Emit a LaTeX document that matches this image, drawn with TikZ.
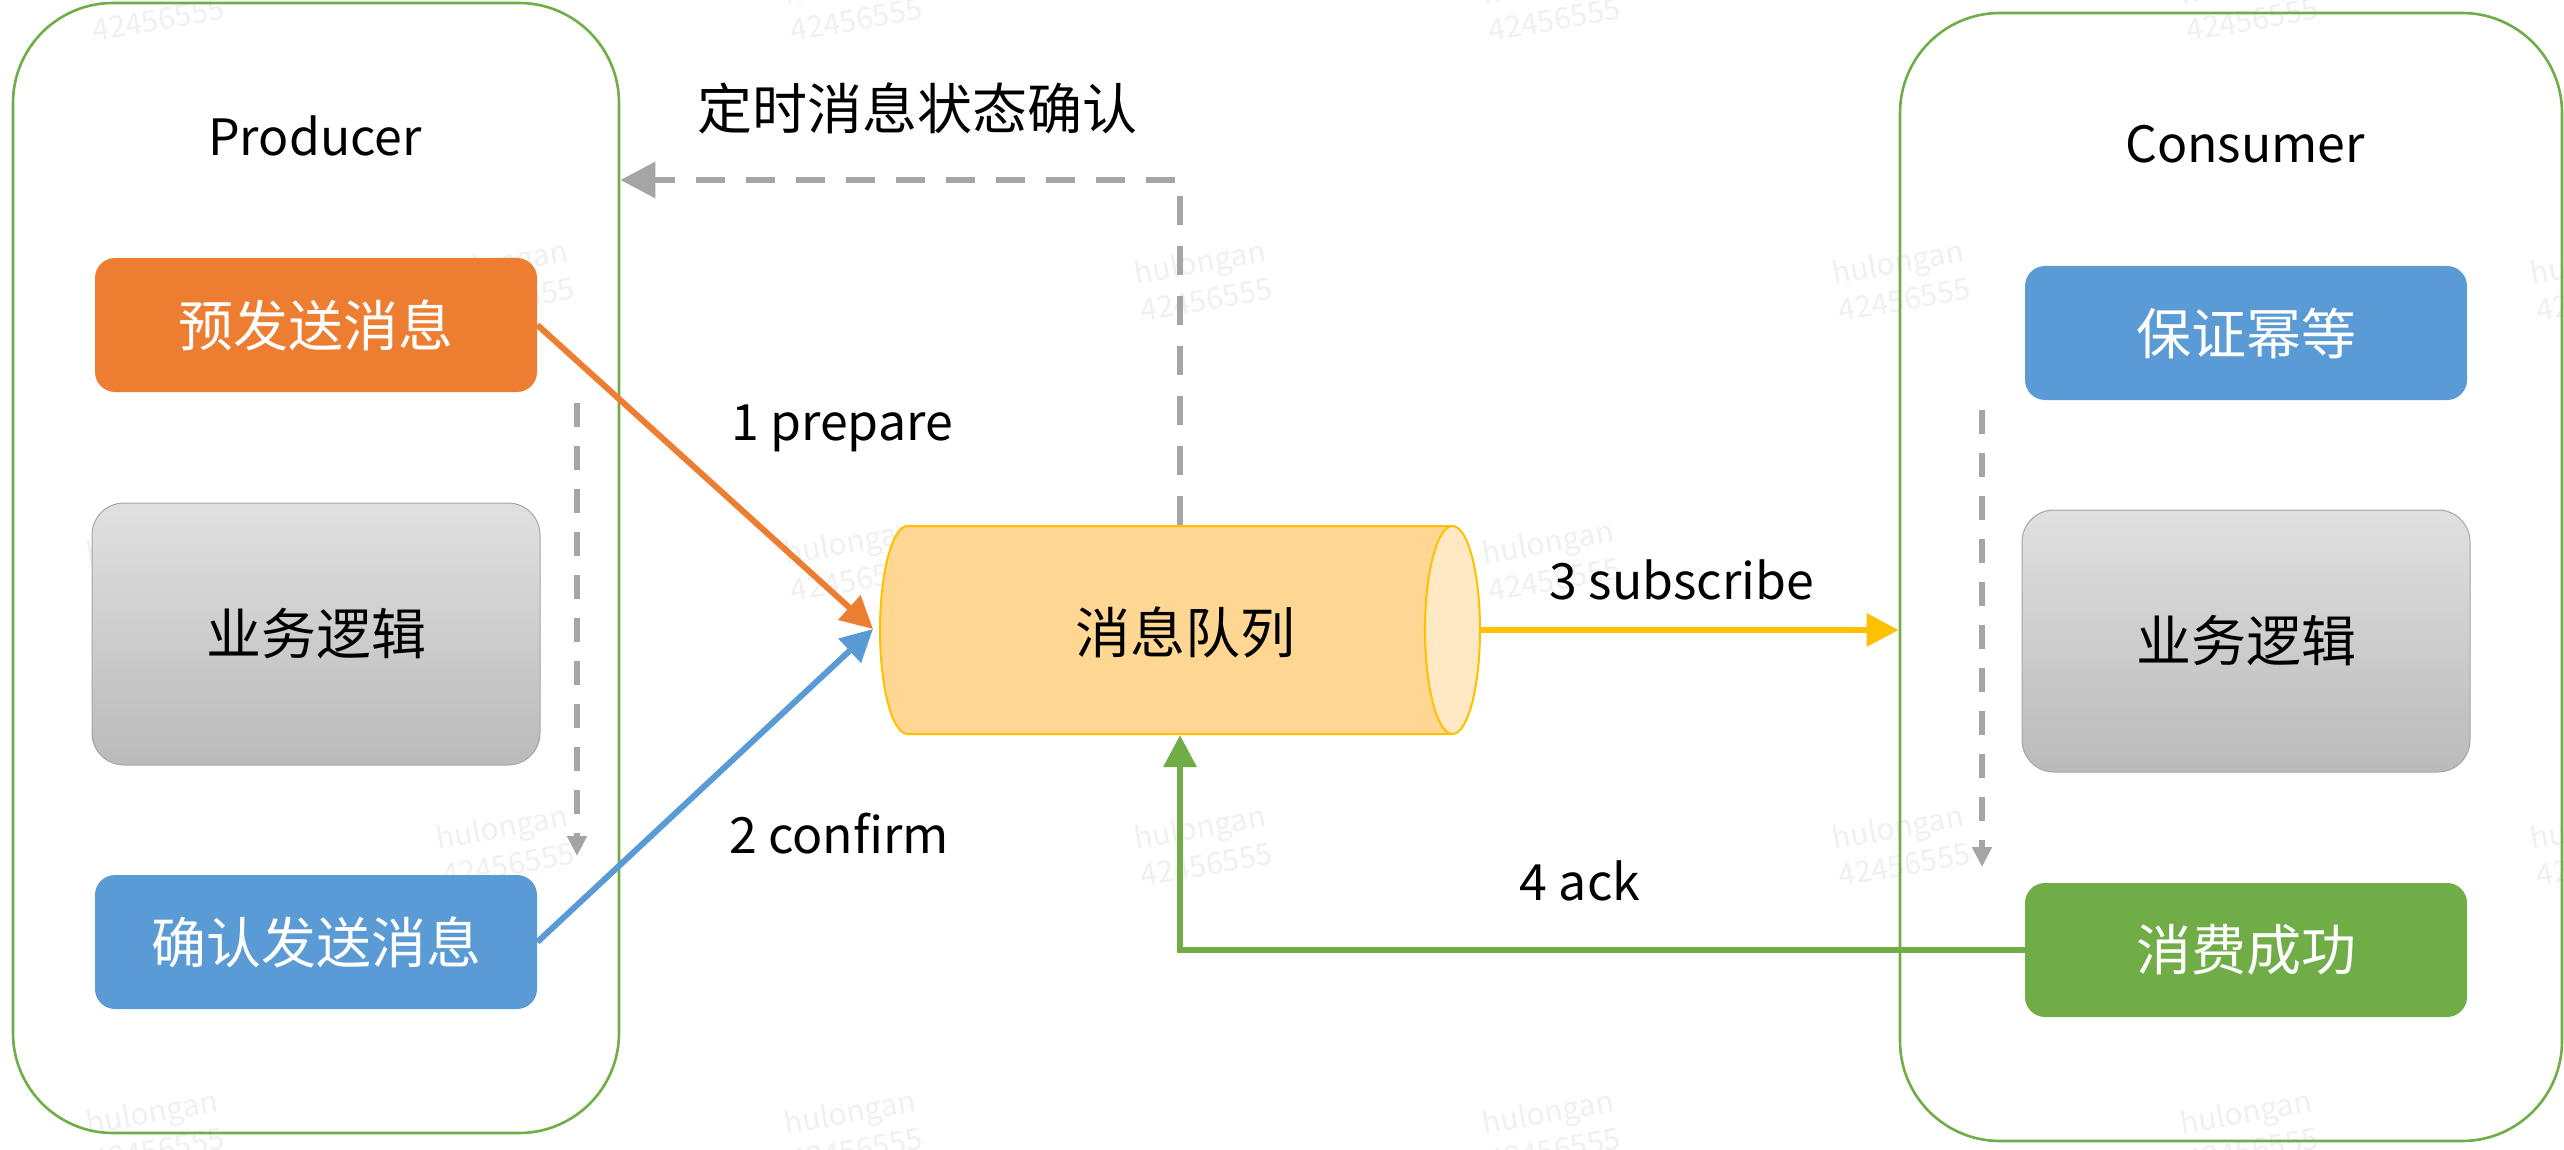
\documentclass[tikz,border=0pt]{standalone}
\usepackage{fontspec}
\setmainfont{Noto Sans CJK SC}
\usepackage{tikz}
\usetikzlibrary{%
  arrows.meta,%
  shapes.geometric,%
  positioning}
\definecolor{boxgreen}{HTML}{70AD47}
\definecolor{boxorange}{HTML}{ED7D31}
\definecolor{boxblue}{HTML}{5B9BD5}
\definecolor{boxyellow}{HTML}{FFC000}
\definecolor{boxgray}{HTML}{A5A5A5}
\definecolor{mqbody}{HTML}{FFD793}
\definecolor{mqend}{HTML}{FFE8C4}
\tikzset{
  side/.style={rectangle,draw=boxgreen,line width=1.3pt,rounded corners=50pt,minimum width=#1},
  side/.default=303pt,
  tag/.style={rectangle,fill=#1,text=white,rounded corners=10pt,minimum width=221pt,minimum height=67pt,font=\fontsize{27.5}{30}\selectfont},
  logic/.style={rectangle,draw=boxgray,line width=.5pt,top color=black!12,bottom color=black!27,rounded corners=16pt,minimum width=224pt,minimum height=131pt,font=\fontsize{27.5}{30}\selectfont},
  lbl/.style={font=\fontsize{25}{30}\selectfont,inner sep=0pt},
  flow/.style={draw=#1,line width=3pt,-{Triangle[length=16pt,width=16pt]}},
  wait/.style={draw=boxgray,line width=3.3pt,dash pattern=on 14.5pt off 10.5pt,-{Triangle[length=17.5pt,width=17.5pt]}},
  waitsmall/.style={draw=boxgray,line width=3.2pt,dash pattern=on 12pt off 9.5pt,-{Triangle[length=10pt,width=9.5pt]}},
  mark text/.style={text=black!6,font=\fontsize{15}{19}\selectfont,rotate=10,align=left}
}
\begin{document}
\begin{tikzpicture}[x=.5pt,y=-.5pt]
\useasboundingbox (0,0) rectangle (2564,1150);
% watermark
\foreach \r/\wy/\off in {0/0/155,1/280/505,2/560/155,3/845/505,4/1130/155}{
  \foreach \c in {0,1,2,3}{
    \node (wm\r\c) at ({\off+698*\c},\wy) [mark text] {hulongan\\42456555};
  }
}
% the two sides
\node (prod) at (316,568) [side,minimum height=565pt] {};
\node (cons) at (2231,577) [side=331pt,minimum height=564pt] {};
\node (prodname) at (315,136) [lbl] {Producer};
\node (consname) at (2245,144) [lbl] {Consumer};
% boxes
\node (send) at (316,325) [tag=boxorange] {预发送消息};
\node (plogic) at (316,634) [logic] {业务逻辑};
\node (conf) at (316,942) [tag=boxblue] {确认发送消息};
\node (idem) at (2246,333) [tag=boxblue] {保证幂等};
\node (clogic) at (2246,641) [logic] {业务逻辑};
\node (done) at (2246,950) [tag=boxgreen] {消费成功};
\node (mq) at (1180,630) [cylinder,anchor=shape center,draw=boxyellow,line width=1pt,shape border rotate=0,shape aspect=.85,cylinder uses custom fill,cylinder body fill=mqbody,cylinder end fill=mqend,minimum width=104pt,minimum height=300pt,font=\fontsize{27.5}{30}\selectfont] {\phantom{消息队列}};
\node (mqname) at (1185,632) [lbl,font=\fontsize{27.5}{30}\selectfont] {消息队列};
% labels
\node (chk) at (917,108) [lbl,font=\fontsize{27.5}{30}\selectfont] {定时消息状态确认};
\node (l1) at (842,428) [lbl] {1 prepare};
\node (l2) at (839,834) [lbl] {2 confirm};
\node (l3) at (1682,580) [lbl] {3 subscribe};
\node (l4) at (1580,881) [lbl] {4 ack};
% connectors
\coordinate (back) at (prod.east |- 0,180);
\coordinate (mqin) at (873,629);
\coordinate (pa) at (577,403);
\coordinate (pb) at (577,856);
\coordinate (ca) at (1982,410);
\coordinate (cb) at (1982,867);
\draw[flow=boxorange] (send.east) -- (mqin);
\draw[flow=boxblue] (conf.east) -- (mqin);
\draw[flow=boxyellow] (mq.east) -- (mq.east -| cons.west);
\draw[flow=boxgreen] (done.west) -| (mq.shape center |- mq.south);
\draw[wait] (mq.shape center |- mq.north) |- (back);
\draw[waitsmall] (pa) -- (pb);
\draw[waitsmall] (ca) -- (cb);
\end{tikzpicture}
\end{document}
